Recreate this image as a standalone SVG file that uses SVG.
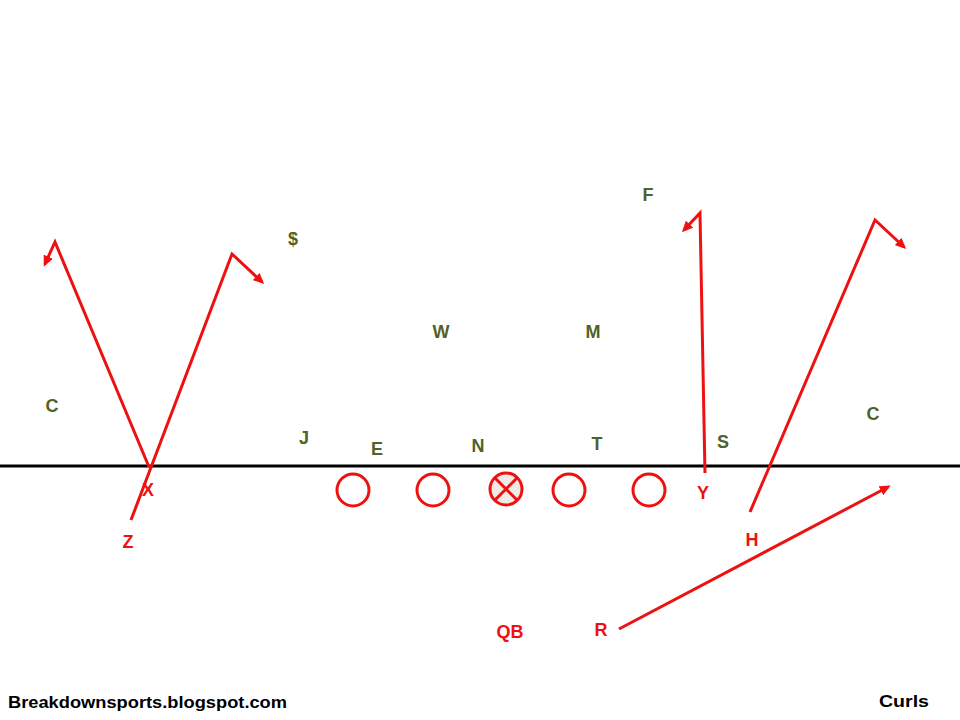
<svg xmlns="http://www.w3.org/2000/svg" width="960" height="720" viewBox="0 0 960 720">
<style>
.d{font-family:"Liberation Sans",Arial,sans-serif;font-weight:bold;font-size:18px;fill:#4f6228;text-anchor:middle}
.o{font-family:"Liberation Sans",Arial,sans-serif;font-weight:bold;font-size:18px;fill:#ee1111;text-anchor:middle}
.r{fill:none;stroke:#ee1111;stroke-width:3;stroke-linejoin:miter}
.p{fill:#fff;stroke:#ee1111;stroke-width:3}
.k{font-family:"Liberation Sans",Arial,sans-serif;font-weight:bold;font-size:17px;fill:#000}
</style>
<defs>
<marker id="ah" markerWidth="11" markerHeight="10" refX="8" refY="5" orient="auto" markerUnits="userSpaceOnUse" viewBox="0 0 11 10">
<path d="M0,0 L11,5 L0,10 Z" fill="#ee1111"/>
</marker>
</defs>
<rect width="960" height="720" fill="#fff"/>
<line x1="0" y1="466" x2="960" y2="466" stroke="#000" stroke-width="3"/>
<g id="connectors">
<polyline class="r" points="149,467 55,242 45,264" marker-end="url(#ah)"/>
<polyline class="r" points="131,520 232,254 262,282" marker-end="url(#ah)"/>
<polyline class="r" points="705,473 700,213 684,230" marker-end="url(#ah)"/>
<polyline class="r" points="750,512 875,220 904,247" marker-end="url(#ah)"/>
<polyline class="r" points="619,629 888,487" marker-end="url(#ah)"/>
</g>
<g id="defense">
<g id="d-C1"><text class="d" x="52" y="412">C</text></g>
<g id="d-dollar"><text class="d" x="293" y="245">$</text></g>
<g id="d-J"><text class="d" x="304" y="444">J</text></g>
<g id="d-E"><text class="d" x="377" y="455">E</text></g>
<g id="d-W"><text class="d" x="441" y="338">W</text></g>
<g id="d-N"><text class="d" x="478" y="452">N</text></g>
<g id="d-M"><text class="d" x="593" y="338">M</text></g>
<g id="d-T"><text class="d" x="597" y="450">T</text></g>
<g id="d-F"><text class="d" x="648" y="201">F</text></g>
<g id="d-S"><text class="d" x="723" y="448">S</text></g>
<g id="d-C2"><text class="d" x="873" y="420">C</text></g>
</g>
<g id="offense">
<g id="lt"><circle class="p" cx="353" cy="490" r="16"/></g>
<g id="lg"><circle class="p" cx="433" cy="490" r="16"/></g>
<g id="center"><circle cx="506" cy="489" r="16" fill="#efebe4" stroke="#ee1111" stroke-width="3"/><path d="M495,478 L517,500 M517,478 L495,500" stroke="#ee1111" stroke-width="3"/></g>
<g id="rg"><circle class="p" cx="569" cy="490" r="16"/></g>
<g id="rt"><circle class="p" cx="649" cy="490" r="16"/></g>
<g id="o-X"><text class="o" x="148" y="496">X</text></g>
<g id="o-Z"><text class="o" x="128" y="548">Z</text></g>
<g id="o-Y"><text class="o" x="703" y="499">Y</text></g>
<g id="o-H"><text class="o" x="752" y="546">H</text></g>
<g id="o-QB"><text class="o" x="510" y="638">QB</text></g>
<g id="o-R"><text class="o" x="601" y="636">R</text></g>
</g>
<text class="k" x="8" y="708" textLength="279" lengthAdjust="spacingAndGlyphs">Breakdownsports.blogspot.com</text>
<text class="k" x="879" y="707" textLength="50" lengthAdjust="spacingAndGlyphs">Curls</text>
</svg>
